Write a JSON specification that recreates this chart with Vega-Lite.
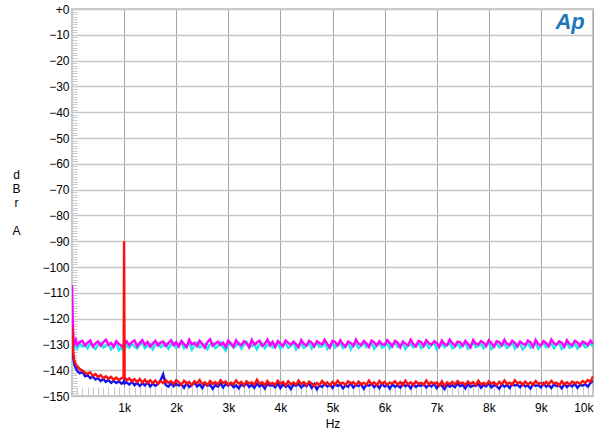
{
  "$schema": "https://vega.github.io/schema/vega-lite/v6.json",
  "width": 521,
  "height": 387,
  "autosize": {"type": "none"},
  "padding": {"left": 72, "top": 9, "right": 7, "bottom": 47},
  "background": "white",
  "config": {
    "font": "Liberation Sans",
    "view": {"stroke": "#c8c8c8", "strokeWidth": 2},
    "axis": {"labelFont": "Liberation Sans", "titleFont": "Liberation Sans", "labelColor": "#000000", "titleColor": "#000000", "labelFontSize": 12, "titleFontSize": 12, "titleFontWeight": "normal"}
  },
  "data": {
    "values": [
      {"f":0,"c":-112,"m":-107,"b":-126,"r":-123},
      {"f":10,"c":-121,"m":-118,"b":-131,"r":-128},
      {"f":20,"c":-126.5,"m":-124.5,"b":-134,"r":-132},
      {"f":30,"c":-129.5,"m":-128,"b":-136,"r":-134.5},
      {"f":50,"c":-131.2,"m":-129.6,"b":-138.2,"r":-136.6},
      {"f":75,"c":-130.1,"m":-128.3,"b":-139.1,"r":-137.9},
      {"f":100,"c":-131.6,"m":-130.2,"b":-140.3,"r":-138.4},
      {"f":150,"c":-129.8,"m":-129.1,"b":-141.2,"r":-139.6},
      {"f":200,"c":-130.9,"m":-128.6,"b":-140.6,"r":-140.1},
      {"f":250,"c":-130.2,"m":-130.4,"b":-142.3,"r":-140.9},
      {"f":300,"c":-131.5,"m":-129.3,"b":-141.9,"r":-141.4},
      {"f":350,"c":-129.6,"m":-128.5,"b":-143.1,"r":-140.8},
      {"f":400,"c":-130.7,"m":-130.8,"b":-142.4,"r":-142.2},
      {"f":450,"c":-131.8,"m":-129.6,"b":-143.6,"r":-141.5},
      {"f":500,"c":-130.3,"m":-128.9,"b":-143.0,"r":-142.6},
      {"f":550,"c":-129.4,"m":-130.5,"b":-144.2,"r":-141.9},
      {"f":600,"c":-131.2,"m":-129.2,"b":-143.4,"r":-143.1},
      {"f":650,"c":-130.6,"m":-128.2,"b":-144.5,"r":-142.4},
      {"f":700,"c":-129.9,"m":-130.1,"b":-143.8,"r":-143.3},
      {"f":750,"c":-131.9,"m":-129.4,"b":-144.9,"r":-142.6},
      {"f":800,"c":-130.4,"m":-130.9,"b":-144.1,"r":-143.7},
      {"f":850,"c":-129.2,"m":-128.7,"b":-145.0,"r":-142.9},
      {"f":900,"c":-132.3,"m":-129.8,"b":-144.3,"r":-143.8},
      {"f":950,"c":-131.0,"m":-130.6,"b":-145.2,"r":-143.1},
      {"f":990,"c":-132.8,"m":-131.2,"b":-144.6,"r":-142.9},
      {"f":1000,"c":-130.5,"m":-129.4,"b":-144.0,"r":-90},
      {"f":1010,"c":-131.7,"m":-130.0,"b":-145.1,"r":-142.7},
      {"f":1050,"c":-130.2,"m":-128.8,"b":-144.7,"r":-143.9},
      {"f":1100,"c":-131.3,"m":-130.3,"b":-145.6,"r":-143.2},
      {"f":1150,"c":-129.7,"m":-129.1,"b":-144.4,"r":-144.3},
      {"f":1200,"c":-130.9,"m":-128.5,"b":-145.8,"r":-143.5},
      {"f":1250,"c":-131.6,"m":-130.7,"b":-144.9,"r":-144.6},
      {"f":1300,"c":-130.1,"m":-129.5,"b":-146.1,"r":-143.4},
      {"f":1350,"c":-129.3,"m":-128.3,"b":-145.0,"r":-144.8},
      {"f":1400,"c":-131.4,"m":-130.2,"b":-145.9,"r":-143.7},
      {"f":1450,"c":-130.6,"m":-129.0,"b":-144.6,"r":-145.1},
      {"f":1500,"c":-129.8,"m":-130.9,"b":-146.3,"r":-143.9},
      {"f":1550,"c":-131.9,"m":-129.7,"b":-145.2,"r":-144.9},
      {"f":1600,"c":-130.3,"m":-128.6,"b":-146.0,"r":-144.0},
      {"f":1650,"c":-129.5,"m":-130.4,"b":-145.4,"r":-145.3},
      {"f":1700,"c":-131.1,"m":-129.3,"b":-143.9,"r":-144.2},
      {"f":1750,"c":-130.5,"m":-128.9,"b":-141.6,"r":-145.0},
      {"f":1800,"c":-129.6,"m":-130.6,"b":-145.7,"r":-143.8},
      {"f":1850,"c":-131.7,"m":-129.5,"b":-146.4,"r":-144.9},
      {"f":1900,"c":-130.2,"m":-128.4,"b":-145.1,"r":-144.3},
      {"f":1950,"c":-129.4,"m":-130.3,"b":-146.2,"r":-145.4},
      {"f":2000,"c":-131.3,"m":-129.2,"b":-145.3,"r":-143.9},
      {"f":2050,"c":-130.0,"m":-130.8,"b":-146.0,"r":-144.6},
      {"f":2100,"c":-129.1,"m":-128.7,"b":-145.4,"r":-145.7},
      {"f":2150,"c":-131.5,"m":-129.9,"b":-146.8,"r":-144.1},
      {"f":2200,"c":-130.7,"m":-131.1,"b":-145.0,"r":-145.2},
      {"f":2250,"c":-129.6,"m":-128.2,"b":-146.5,"r":-144.5},
      {"f":2300,"c":-132.1,"m":-130.0,"b":-145.7,"r":-145.9},
      {"f":2350,"c":-130.4,"m":-129.4,"b":-144.8,"r":-144.3},
      {"f":2400,"c":-129.3,"m":-130.7,"b":-146.3,"r":-145.1},
      {"f":2450,"c":-131.2,"m":-128.6,"b":-145.5,"r":-143.8},
      {"f":2500,"c":-130.6,"m":-129.8,"b":-146.9,"r":-145.4},
      {"f":2550,"c":-129.9,"m":-131.3,"b":-145.2,"r":-144.7},
      {"f":2600,"c":-131.8,"m":-129.1,"b":-146.1,"r":-145.8},
      {"f":2650,"c":-130.1,"m":-128.0,"b":-145.6,"r":-144.2},
      {"f":2700,"c":-129.5,"m":-130.5,"b":-147.2,"r":-145.3},
      {"f":2750,"c":-131.4,"m":-129.6,"b":-145.8,"r":-144.6},
      {"f":2800,"c":-130.8,"m":-128.9,"b":-146.4,"r":-145.6},
      {"f":2850,"c":-129.2,"m":-130.2,"b":-145.1,"r":-143.9},
      {"f":2900,"c":-131.0,"m":-129.3,"b":-146.7,"r":-145.0},
      {"f":2950,"c":-132.4,"m":-131.0,"b":-145.4,"r":-144.4},
      {"f":3000,"c":-130.3,"m":-128.5,"b":-146.0,"r":-145.7},
      {"f":3050,"c":-129.7,"m":-129.7,"b":-145.3,"r":-144.8},
      {"f":3100,"c":-131.3,"m":-130.9,"b":-146.6,"r":-145.5},
      {"f":3150,"c":-130.5,"m":-128.4,"b":-145.9,"r":-144.0},
      {"f":3200,"c":-129.4,"m":-129.9,"b":-147.0,"r":-145.2},
      {"f":3250,"c":-131.6,"m":-130.3,"b":-145.5,"r":-144.5},
      {"f":3300,"c":-130.2,"m":-128.8,"b":-146.2,"r":-145.9},
      {"f":3350,"c":-129.0,"m":-129.5,"b":-145.0,"r":-144.3},
      {"f":3400,"c":-131.1,"m":-131.2,"b":-146.5,"r":-145.1},
      {"f":3450,"c":-130.7,"m":-128.3,"b":-145.7,"r":-144.7},
      {"f":3500,"c":-129.8,"m":-130.1,"b":-146.8,"r":-145.6},
      {"f":3550,"c":-131.9,"m":-129.2,"b":-145.2,"r":-143.7},
      {"f":3600,"c":-130.0,"m":-128.6,"b":-146.3,"r":-145.3},
      {"f":3650,"c":-129.6,"m":-130.6,"b":-145.6,"r":-144.6},
      {"f":3700,"c":-131.5,"m":-129.8,"b":-147.1,"r":-145.8},
      {"f":3750,"c":-130.4,"m":-128.1,"b":-145.3,"r":-144.2},
      {"f":3800,"c":-129.3,"m":-130.4,"b":-146.0,"r":-145.4},
      {"f":3850,"c":-131.2,"m":-129.0,"b":-145.8,"r":-144.9},
      {"f":3900,"c":-130.9,"m":-131.0,"b":-146.6,"r":-145.7},
      {"f":3950,"c":-129.5,"m":-128.7,"b":-145.1,"r":-144.1},
      {"f":4000,"c":-131.7,"m":-129.6,"b":-146.9,"r":-145.2},
      {"f":4050,"c":-130.1,"m":-130.7,"b":-145.5,"r":-144.5},
      {"f":4100,"c":-129.7,"m":-128.5,"b":-146.4,"r":-145.9},
      {"f":4150,"c":-131.4,"m":-129.4,"b":-145.9,"r":-144.3},
      {"f":4200,"c":-130.6,"m":-130.2,"b":-147.3,"r":-145.5},
      {"f":4250,"c":-129.2,"m":-128.9,"b":-145.6,"r":-144.8},
      {"f":4300,"c":-132.0,"m":-129.9,"b":-146.1,"r":-145.6},
      {"f":4350,"c":-130.3,"m":-131.1,"b":-145.3,"r":-144.0},
      {"f":4400,"c":-129.8,"m":-128.3,"b":-146.7,"r":-145.3},
      {"f":4450,"c":-131.3,"m":-129.7,"b":-145.7,"r":-144.6},
      {"f":4500,"c":-130.5,"m":-130.5,"b":-146.2,"r":-145.8},
      {"f":4550,"c":-129.4,"m":-128.6,"b":-145.0,"r":-144.4},
      {"f":4600,"c":-131.6,"m":-129.3,"b":-146.8,"r":-145.1},
      {"f":4650,"c":-130.2,"m":-130.8,"b":-145.4,"r":-146.2},
      {"f":4700,"c":-129.6,"m":-128.8,"b":-147.4,"r":-144.9},
      {"f":4750,"c":-131.0,"m":-129.5,"b":-145.8,"r":-145.7},
      {"f":4800,"c":-130.8,"m":-130.0,"b":-146.5,"r":-144.2},
      {"f":4850,"c":-129.1,"m":-128.2,"b":-145.2,"r":-145.4},
      {"f":4900,"c":-131.8,"m":-129.8,"b":-146.3,"r":-144.7},
      {"f":4950,"c":-130.4,"m":-131.2,"b":-145.6,"r":-145.9},
      {"f":5000,"c":-129.7,"m":-128.6,"b":-146.9,"r":-144.5},
      {"f":5050,"c":-131.2,"m":-129.1,"b":-145.3,"r":-145.6},
      {"f":5100,"c":-130.0,"m":-130.4,"b":-146.1,"r":-144.1},
      {"f":5150,"c":-129.5,"m":-128.4,"b":-145.5,"r":-145.3},
      {"f":5200,"c":-131.5,"m":-129.9,"b":-147.0,"r":-144.8},
      {"f":5250,"c":-130.7,"m":-130.9,"b":-145.9,"r":-145.7},
      {"f":5300,"c":-129.3,"m":-128.9,"b":-146.4,"r":-144.3},
      {"f":5350,"c":-131.9,"m":-129.4,"b":-145.1,"r":-145.2},
      {"f":5400,"c":-130.1,"m":-130.6,"b":-146.7,"r":-144.6},
      {"f":5450,"c":-129.8,"m":-128.1,"b":-145.7,"r":-145.8},
      {"f":5500,"c":-131.4,"m":-129.7,"b":-146.2,"r":-144.4},
      {"f":5550,"c":-130.6,"m":-130.3,"b":-145.4,"r":-145.5},
      {"f":5600,"c":-129.2,"m":-128.7,"b":-147.2,"r":-144.9},
      {"f":5650,"c":-131.1,"m":-129.6,"b":-145.8,"r":-145.6},
      {"f":5700,"c":-130.3,"m":-131.0,"b":-146.0,"r":-144.0},
      {"f":5750,"c":-129.6,"m":-128.5,"b":-145.3,"r":-145.4},
      {"f":5800,"c":-131.7,"m":-129.2,"b":-146.6,"r":-144.7},
      {"f":5850,"c":-130.0,"m":-130.5,"b":-145.6,"r":-145.9},
      {"f":5900,"c":-129.4,"m":-128.8,"b":-146.9,"r":-144.2},
      {"f":5950,"c":-131.3,"m":-129.9,"b":-145.2,"r":-145.3},
      {"f":6000,"c":-130.5,"m":-130.2,"b":-146.3,"r":-144.5},
      {"f":6050,"c":-129.7,"m":-128.3,"b":-145.7,"r":-145.7},
      {"f":6100,"c":-131.6,"m":-129.5,"b":-147.1,"r":-144.8},
      {"f":6150,"c":-130.2,"m":-130.7,"b":-145.5,"r":-145.1},
      {"f":6200,"c":-129.1,"m":-128.6,"b":-146.4,"r":-144.3},
      {"f":6250,"c":-131.0,"m":-129.3,"b":-145.9,"r":-145.6},
      {"f":6300,"c":-130.8,"m":-131.1,"b":-146.8,"r":-144.6},
      {"f":6350,"c":-129.5,"m":-128.9,"b":-145.1,"r":-145.9},
      {"f":6400,"c":-131.8,"m":-129.7,"b":-146.2,"r":-144.1},
      {"f":6450,"c":-130.4,"m":-130.4,"b":-145.6,"r":-145.4},
      {"f":6500,"c":-129.9,"m":-128.2,"b":-147.0,"r":-144.7},
      {"f":6550,"c":-131.2,"m":-129.8,"b":-145.3,"r":-145.8},
      {"f":6600,"c":-130.1,"m":-130.8,"b":-146.5,"r":-144.4},
      {"f":6650,"c":-129.3,"m":-128.7,"b":-145.8,"r":-145.2},
      {"f":6700,"c":-131.5,"m":-129.1,"b":-146.1,"r":-144.9},
      {"f":6750,"c":-130.7,"m":-130.6,"b":-145.4,"r":-145.7},
      {"f":6800,"c":-129.6,"m":-128.4,"b":-146.7,"r":-144.0},
      {"f":6850,"c":-131.4,"m":-129.6,"b":-145.7,"r":-145.5},
      {"f":6900,"c":-130.3,"m":-130.1,"b":-146.3,"r":-144.6},
      {"f":6950,"c":-129.0,"m":-128.8,"b":-145.2,"r":-145.3},
      {"f":7000,"c":-131.9,"m":-129.4,"b":-146.9,"r":-144.8},
      {"f":7050,"c":-130.5,"m":-131.0,"b":-145.6,"r":-145.9},
      {"f":7100,"c":-129.8,"m":-128.5,"b":-146.0,"r":-144.3},
      {"f":7150,"c":-131.1,"m":-129.9,"b":-147.3,"r":-146.1},
      {"f":7200,"c":-130.2,"m":-130.3,"b":-145.5,"r":-144.7},
      {"f":7250,"c":-129.4,"m":-128.1,"b":-146.4,"r":-145.4},
      {"f":7300,"c":-131.6,"m":-129.5,"b":-145.8,"r":-144.5},
      {"f":7350,"c":-130.9,"m":-130.7,"b":-146.6,"r":-145.6},
      {"f":7400,"c":-129.7,"m":-128.9,"b":-145.1,"r":-144.2},
      {"f":7450,"c":-131.3,"m":-129.2,"b":-146.2,"r":-145.1},
      {"f":7500,"c":-130.0,"m":-130.5,"b":-145.7,"r":-144.8},
      {"f":7550,"c":-129.5,"m":-128.6,"b":-147.0,"r":-145.7},
      {"f":7600,"c":-131.7,"m":-129.8,"b":-145.3,"r":-144.4},
      {"f":7650,"c":-130.4,"m":-131.2,"b":-146.5,"r":-145.3},
      {"f":7700,"c":-129.2,"m":-128.3,"b":-145.9,"r":-144.6},
      {"f":7750,"c":-131.0,"m":-129.7,"b":-146.1,"r":-145.8},
      {"f":7800,"c":-130.6,"m":-130.0,"b":-145.4,"r":-144.1},
      {"f":7850,"c":-129.9,"m":-128.7,"b":-146.8,"r":-145.5},
      {"f":7900,"c":-131.5,"m":-129.3,"b":-145.6,"r":-144.9},
      {"f":7950,"c":-130.1,"m":-130.6,"b":-146.3,"r":-145.6},
      {"f":8000,"c":-129.3,"m":-128.4,"b":-145.0,"r":-144.3},
      {"f":8050,"c":-131.8,"m":-129.6,"b":-146.7,"r":-145.2},
      {"f":8100,"c":-130.7,"m":-130.9,"b":-145.8,"r":-144.7},
      {"f":8150,"c":-129.6,"m":-128.8,"b":-146.2,"r":-145.9},
      {"f":8200,"c":-131.2,"m":-129.1,"b":-147.2,"r":-144.5},
      {"f":8250,"c":-130.3,"m":-130.4,"b":-145.5,"r":-145.4},
      {"f":8300,"c":-129.8,"m":-128.2,"b":-146.4,"r":-144.0},
      {"f":8350,"c":-131.4,"m":-129.8,"b":-145.7,"r":-145.3},
      {"f":8400,"c":-130.5,"m":-130.2,"b":-146.9,"r":-144.8},
      {"f":8450,"c":-129.1,"m":-128.6,"b":-145.2,"r":-145.7},
      {"f":8500,"c":-131.6,"m":-129.4,"b":-146.0,"r":-143.9},
      {"f":8550,"c":-130.0,"m":-130.8,"b":-145.6,"r":-145.1},
      {"f":8600,"c":-129.7,"m":-128.9,"b":-146.6,"r":-144.6},
      {"f":8650,"c":-131.9,"m":-129.7,"b":-145.3,"r":-145.8},
      {"f":8700,"c":-130.8,"m":-130.3,"b":-146.3,"r":-144.4},
      {"f":8750,"c":-129.4,"m":-128.5,"b":-145.9,"r":-145.5},
      {"f":8800,"c":-131.3,"m":-129.2,"b":-147.1,"r":-144.7},
      {"f":8850,"c":-130.2,"m":-131.0,"b":-145.4,"r":-145.6},
      {"f":8900,"c":-129.6,"m":-128.3,"b":-146.1,"r":-144.2},
      {"f":8950,"c":-131.7,"m":-129.9,"b":-145.8,"r":-145.3},
      {"f":9000,"c":-130.4,"m":-130.5,"b":-146.7,"r":-144.9},
      {"f":9050,"c":-129.2,"m":-128.7,"b":-145.1,"r":-145.7},
      {"f":9100,"c":-131.1,"m":-129.5,"b":-146.4,"r":-144.5},
      {"f":9150,"c":-130.6,"m":-130.7,"b":-145.7,"r":-145.4},
      {"f":9200,"c":-129.9,"m":-128.1,"b":-146.9,"r":-144.1},
      {"f":9250,"c":-131.5,"m":-129.6,"b":-145.5,"r":-145.2},
      {"f":9300,"c":-130.1,"m":-130.1,"b":-146.2,"r":-144.8},
      {"f":9350,"c":-129.3,"m":-128.8,"b":-145.9,"r":-145.9},
      {"f":9400,"c":-131.8,"m":-129.3,"b":-147.0,"r":-144.3},
      {"f":9450,"c":-130.5,"m":-130.9,"b":-145.3,"r":-145.5},
      {"f":9500,"c":-129.7,"m":-128.4,"b":-146.5,"r":-144.7},
      {"f":9550,"c":-131.3,"m":-129.8,"b":-145.6,"r":-145.6},
      {"f":9600,"c":-130.9,"m":-130.4,"b":-146.3,"r":-144.4},
      {"f":9650,"c":-129.5,"m":-128.6,"b":-145.2,"r":-145.1},
      {"f":9700,"c":-131.6,"m":-129.2,"b":-146.8,"r":-144.6},
      {"f":9750,"c":-130.3,"m":-130.6,"b":-145.7,"r":-145.3},
      {"f":9800,"c":-129.8,"m":-128.9,"b":-146.0,"r":-144.2},
      {"f":9850,"c":-131.2,"m":-129.5,"b":-145.4,"r":-144.9},
      {"f":9900,"c":-130.6,"m":-130.2,"b":-146.4,"r":-143.8},
      {"f":9950,"c":-129.4,"m":-128.5,"b":-145.0,"r":-144.5},
      {"f":10000,"c":-131.0,"m":-129.7,"b":-144.2,"r":-142.3}
    ]
  },
  "layer": [
    {
      "mark": {"type": "line", "color": "#22e6e6", "strokeWidth": 2.4, "clip": true},
      "encoding": {
        "x": {
          "field": "f", "type": "quantitative",
          "scale": {"domain": [0, 10000], "nice": false, "zero": false},
          "axis": {
            "orient": "bottom",
            "values": [1000, 2000, 3000, 4000, 5000, 6000, 7000, 8000, 9000, 10000],
            "labelExpr": "(datum.value / 1000) + 'k'",
            "labelFlush": true,
            "grid": true, "gridColor": "#a6a6a6", "gridWidth": 1,
            "ticks": false, "domain": false,
            "labelPadding": 6,
            "title": "Hz", "titlePadding": 5
          }
        },
        "y": {
          "field": "c", "type": "quantitative",
          "scale": {"domain": [-150, 0], "nice": false, "zero": false},
          "axis": {
            "orient": "left",
            "values": [0, -10, -20, -30, -40, -50, -60, -70, -80, -90, -100, -110, -120, -130, -140, -150],
            "labelExpr": "datum.value == 0 ? '+0' : datum.label",
            "grid": true, "gridColor": "#c6c6c6", "gridWidth": 1.5,
            "ticks": false, "domain": false,
            "labelPadding": 3,
            "title": ["d", "B", "r"],
            "titleAngle": 0, "titleAlign": "center", "titleBaseline": "top",
            "titleX": -56, "titleY": 160, "titleLineHeight": 14
          }
        }
      }
    },
    {
      "mark": {"type": "line", "color": "#ff00ff", "strokeWidth": 2.4, "clip": true},
      "encoding": {
        "x": {
          "field": "f", "type": "quantitative",
          "scale": {"domain": [0, 10000], "nice": false, "zero": false},
          "axis": {
            "orient": "bottom", "tickCount": 100, "labels": false, "ticks": false, "domain": false,
            "grid": true, "gridColor": "#c8c8c8", "gridWidth": 1, "gridDash": [0, 378, 9, 20],
            "title": null
          }
        },
        "y": {
          "field": "m", "type": "quantitative",
          "scale": {"domain": [-150, 0], "nice": false, "zero": false},
          "axis": {
            "orient": "left", "tickCount": 150, "labels": false, "ticks": false, "domain": false,
            "grid": true, "gridColor": "#c8c8c8", "gridWidth": 1, "gridDash": [5, 1000],
            "title": null
          }
        }
      }
    },
    {
      "mark": {"type": "line", "color": "#1414f0", "strokeWidth": 2.4, "clip": true},
      "encoding": {
        "x": {"field": "f", "type": "quantitative", "scale": {"domain": [0, 10000], "nice": false, "zero": false}, "axis": null},
        "y": {
          "field": "b", "type": "quantitative",
          "scale": {"domain": [-150, 0], "nice": false, "zero": false},
          "axis": {
            "orient": "left", "values": [], "labels": false, "ticks": false, "domain": false, "grid": false,
            "title": "A", "titleAngle": 0, "titleAlign": "center", "titleBaseline": "top",
            "titleX": -56, "titleY": 216
          }
        }
      }
    },
    {
      "mark": {"type": "line", "color": "#ff1010", "strokeWidth": 2.4, "clip": true},
      "encoding": {
        "x": {"field": "f", "type": "quantitative", "scale": {"domain": [0, 10000], "nice": false, "zero": false}, "axis": null},
        "y": {"field": "r", "type": "quantitative", "scale": {"domain": [-150, 0], "nice": false, "zero": false}, "axis": null}
      }
    },
    {
      "data": {"values": [{"logo": "Ap"}]},
      "mark": {"type": "text", "font": "Liberation Sans", "fontStyle": "italic", "fontWeight": "bold", "fontSize": 22, "color": "#1c78bc", "align": "center", "baseline": "middle"},
      "encoding": {
        "x": {"datum": 9560, "type": "quantitative", "axis": null},
        "y": {"datum": -5, "type": "quantitative", "axis": null},
        "text": {"field": "logo"}
      }
    }
  ],
  "resolve": {"axis": {"x": "independent", "y": "independent"}}
}
